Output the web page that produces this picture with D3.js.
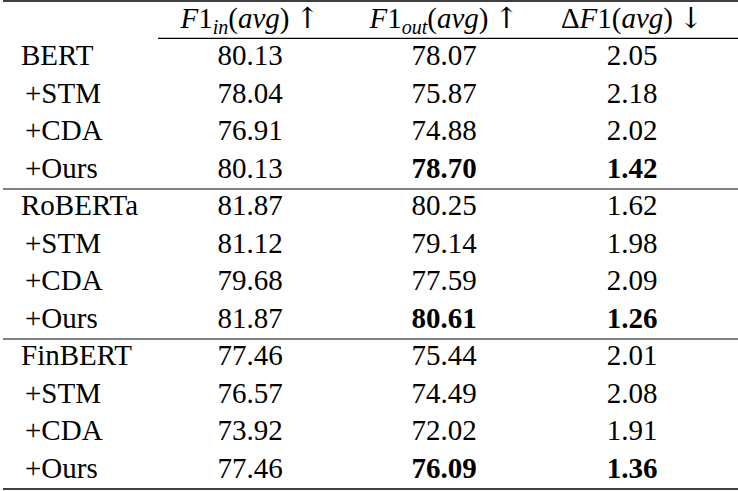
<!DOCTYPE html>
<html>
<head>
<meta charset="utf-8">
<script src="https://cdn.jsdelivr.net/npm/d3@7"></script>
<style>
  html, body { margin: 0; padding: 0; background: #fff; }
  svg { display: block; }
  text { font-family: "Liberation Serif", "Times New Roman", serif; fill: #000; }
</style>
</head>
<body>
<svg id="chart"></svg>
<script>
const width = 738;
const height = 491;

// table values
const models = ["BERT", "RoBERTa", "FinBERT"];
const methods = ["", "+STM", "+CDA", "+Ours"];
const f1In = [80.13, 78.04, 76.91, 80.13, 81.87, 81.12, 79.68, 81.87, 77.46, 76.57, 73.92, 77.46];
const f1Out = [78.07, 75.87, 74.88, 78.70, 80.25, 79.14, 77.59, 80.61, 75.44, 74.49, 72.02, 76.09];
const deltaF1 = [2.05, 2.18, 2.02, 1.42, 1.62, 1.98, 2.09, 1.26, 2.01, 2.08, 1.91, 1.36];
const columns = ["f1In", "f1Out", "delta"];

const rows = [];
models.forEach((m, gi) => {
    methods.forEach((meth, mi) => {
        const i = gi * methods.length + mi;
        rows.push({
            i: i,
            group: gi,
            label: meth === "" ? m : meth,
            sub: meth !== "",
            f1In: f1In[i],
            f1Out: f1Out[i],
            delta: deltaF1[i]
        });
    });
});

// best of each group is bolded (max F1_out, min delta)
const groups = d3.groups(rows, d => d.group);
groups.forEach(([g, rs]) => {
    const bestOut = d3.max(rs, d => d.f1Out);
    const bestDelta = d3.min(rs, d => d.delta);
    rs.forEach(r => {
        r.boldOut = r.f1Out === bestOut;
        r.boldDelta = r.delta === bestDelta;
    });
});

const svg = d3.select("#chart")
    .attr("width", width)
    .attr("height", height);

const fmt = d3.format(".2f");

const yScale = d3.scaleLinear()
    .domain([0, rows.length - 1])
    .range([65, 477.5]);

const xScale = d3.scaleOrdinal()
    .domain(columns)
    .range([250, 444, 632]);

const fontSize = 29;

// rules
const rule = (y, x1, x2, w) => svg.append("line")
    .attr("x1", x1).attr("x2", x2)
    .attr("y1", y).attr("y2", y)
    .attr("stroke", "#000")
    .attr("stroke-width", w);

rule(1, 3, width, 1.6);
rule(38.3, 158, width, 1.2);
groups.forEach(([g, rs]) => {
    const last = rs[rs.length - 1];
    const y = yScale(last.i) + 11.5;
    rule(y, 3, width, g === models.length - 1 ? 1.6 : 1.2);
});

// header
const headerY = 27.5;
const header = svg.append("g").attr("font-size", fontSize);

function mathHeader(col, parts) {
    const t = header.append("text")
        .attr("x", xScale(col))
        .attr("y", headerY)
        .attr("text-anchor", "middle");
    parts.forEach(p => {
        const s = t.append("tspan").text(p.t);
        if (p.it) s.attr("font-style", "italic");
        if (p.sub) s.attr("font-size", 20).attr("dy", 6);
        if (p.up) s.attr("dy", -6);
        if (p.f) s.attr("font-family", p.f);
    });
}

mathHeader("f1In", [
    {t: "F", it: true}, {t: "1"}, {t: "in", it: true, sub: true},
    {t: "(", up: true}, {t: "avg", it: true}, {t: ")"},
    {t: "\u2009\u2191", f: "DejaVu Serif"}
]);
mathHeader("f1Out", [
    {t: "F", it: true}, {t: "1"}, {t: "out", it: true, sub: true},
    {t: "(", up: true}, {t: "avg", it: true}, {t: ")"},
    {t: "\u2009\u2191", f: "DejaVu Serif"}
]);
mathHeader("delta", [
    {t: "\u0394"}, {t: "F", it: true}, {t: "1"},
    {t: "("}, {t: "avg", it: true}, {t: ")"},
    {t: "\u2009\u2193", f: "DejaVu Serif"}
]);

// body
const body = svg.append("g").attr("font-size", fontSize);

const rowG = body.selectAll(".row")
    .data(rows)
    .enter()
    .append("g")
    .attr("class", "row")
    .attr("transform", d => `translate(0, ${yScale(d.i)})`);

rowG.append("text")
    .attr("x", d => d.sub ? 25 : 21)
    .text(d => d.label);

rowG.append("text")
    .attr("x", xScale("f1In"))
    .attr("text-anchor", "middle")
    .text(d => fmt(d.f1In));

rowG.append("text")
    .attr("x", xScale("f1Out"))
    .attr("text-anchor", "middle")
    .attr("font-weight", d => d.boldOut ? "bold" : null)
    .text(d => fmt(d.f1Out));

rowG.append("text")
    .attr("x", xScale("delta"))
    .attr("text-anchor", "middle")
    .attr("font-weight", d => d.boldDelta ? "bold" : null)
    .text(d => fmt(d.delta));
</script>
</body>
</html>
